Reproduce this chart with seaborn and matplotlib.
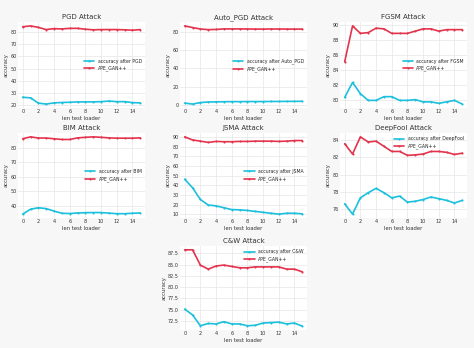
import numpy as np
import pandas as pd
import matplotlib
matplotlib.use("Agg")
import matplotlib.pyplot as plt
import seaborn as sns

steps = list(range(16))

pgd_acc = [26.6, 26.1, 21.8, 21.0, 22.0, 22.3, 22.5, 22.8, 22.8, 22.8, 23.0, 23.5, 23.0, 23.0, 22.2, 22.0]
pgd_ape = [84.3, 85.0, 83.8, 82.0, 82.8, 82.5, 83.0, 83.0, 82.3, 81.8, 82.0, 82.0, 82.0, 81.8, 81.5, 82.0]

apgd_acc = [1.8, 0.7, 2.4, 3.0, 3.2, 3.3, 3.4, 3.4, 3.5, 3.5, 3.5, 3.6, 3.6, 3.7, 3.7, 3.8]
apgd_ape = [86.8, 85.0, 83.4, 82.7, 82.9, 83.5, 83.5, 83.5, 83.4, 83.3, 83.3, 83.4, 83.4, 83.3, 83.3, 83.3]

fgsm_acc = [80.3, 82.3, 80.8, 79.9, 79.9, 80.4, 80.4, 79.9, 79.9, 80.0, 79.7, 79.7, 79.5, 79.7, 79.9, 79.4]
fgsm_ape = [85.1, 89.9, 88.9, 89.0, 89.6, 89.5, 88.9, 88.9, 88.9, 89.2, 89.5, 89.5, 89.2, 89.4, 89.4, 89.4]

bim_acc = [34.2, 37.6, 38.6, 38.0, 36.3, 34.8, 34.6, 35.0, 35.2, 35.3, 35.3, 34.9, 34.5, 34.5, 34.8, 35.0]
bim_ape = [86.1, 87.4, 86.6, 86.6, 86.1, 85.6, 85.6, 86.7, 87.1, 87.4, 87.1, 86.7, 86.5, 86.5, 86.5, 86.7]

jsma_acc = [46.3, 37.5, 25.4, 19.7, 18.8, 16.9, 15.0, 14.7, 14.1, 13.1, 12.2, 11.2, 10.3, 11.2, 11.2, 10.6]
jsma_ape = [90.0, 86.8, 85.6, 84.3, 85.3, 85.0, 85.0, 85.3, 85.3, 85.6, 85.6, 85.6, 85.3, 85.6, 86.2, 86.2]

df_acc = [76.6, 75.4, 77.3, 77.9, 78.4, 77.9, 77.3, 77.5, 76.8, 76.9, 77.1, 77.4, 77.2, 77.0, 76.7, 77.0]
df_ape = [83.6, 82.4, 84.4, 83.8, 83.9, 83.3, 82.7, 82.7, 82.25, 82.3, 82.4, 82.7, 82.7, 82.6, 82.35, 82.5]

cw_acc = [75.1, 73.8, 71.4, 71.9, 71.8, 72.3, 71.8, 71.8, 71.4, 71.5, 72.0, 72.1, 72.2, 71.8, 72.0, 71.3]
cw_ape = [88.3, 88.3, 84.9, 84.0, 84.7, 84.9, 84.6, 84.3, 84.3, 84.5, 84.5, 84.5, 84.5, 84.0, 84.0, 83.4]

attacks = ["PGD", "Auto_PGD", "FGSM", "BIM", "JSMA", "DeepFool", "C&W"]
acc_series = [pgd_acc, apgd_acc, fgsm_acc, bim_acc, jsma_acc, df_acc, cw_acc]
ape_series = [pgd_ape, apgd_ape, fgsm_ape, bim_ape, jsma_ape, df_ape, cw_ape]
legend_locs = ["center right"] * 5 + ["upper right", "upper right"]
yticks = [
    [20, 30, 40, 50, 60, 70, 80],
    [0, 20, 40, 60, 80],
    [80, 82, 84, 86, 88, 90],
    [40, 50, 60, 70, 80],
    [10, 20, 30, 40, 50, 60, 70, 80, 90],
    [76, 78, 80, 82, 84],
    [72.5, 75.0, 77.5, 80.0, 82.5, 85.0, 87.5],
]

sns.set_theme(style="whitegrid")
plt.rcParams["font.family"] = ["DejaVu Sans"]

fig = plt.figure(figsize=(4.74, 3.48), dpi=100, facecolor="#f7f7f7")

W, H = 474.0, 348.0
cols = [18, 180, 340]
rects = []
for (top, h) in [(22, 86), (133, 85)]:
    for c in cols:
        rects.append((c, top, 127, h))
rects.append((cols[1], 246, 127, 84))

blue = "#1cc0dc"
red = "#e3344d"

for i, name in enumerate(attacks):
    x0, y0, aw, ah = rects[i]
    ax = fig.add_axes([x0 / W, 1 - (y0 + ah) / H, aw / W, ah / H])
    ax.set_facecolor("white")
    data = pd.DataFrame({
        "step": steps + steps,
        "value": acc_series[i] + ape_series[i],
        "series": [f"accuracy after {name}"] * 16 + ["APE_GAN++"] * 16,
    })
    sns.lineplot(data=data, x="step", y="value", hue="series",
                 palette=[blue, red], linewidth=1.2, ax=ax,
                 marker="o", markersize=1.5, markeredgewidth=0)
    ax.set_title(f"{name} Attack", fontsize=5, pad=2, color="#333333")
    ax.set_xlabel("len test loader", fontsize=3.8, labelpad=1, color="#333333")
    ax.set_ylabel("accuracy", fontsize=3.8, labelpad=1, color="#333333")
    ax.set_xticks([0, 2, 4, 6, 8, 10, 12, 14])
    ax.set_yticks(yticks[i])
    if i == 6:
        ax.set_yticklabels([f"{v:.1f}" for v in yticks[i]])
    ax.tick_params(labelsize=3.5, pad=1, length=0, colors="#333333")
    ax.set_xlim(-0.6, 15.6)
    for s in ax.spines.values():
        s.set_visible(False)
    ax.grid(color="#e6e6e6", linewidth=0.5)
    leg = ax.legend(loc=legend_locs[i], fontsize=3.3, frameon=False,
                    handlelength=2.2, borderaxespad=0.3)
    for line in leg.get_lines():
        line.set_linewidth(1.2)

fig.savefig("out.png", dpi=100, facecolor=fig.get_facecolor())
